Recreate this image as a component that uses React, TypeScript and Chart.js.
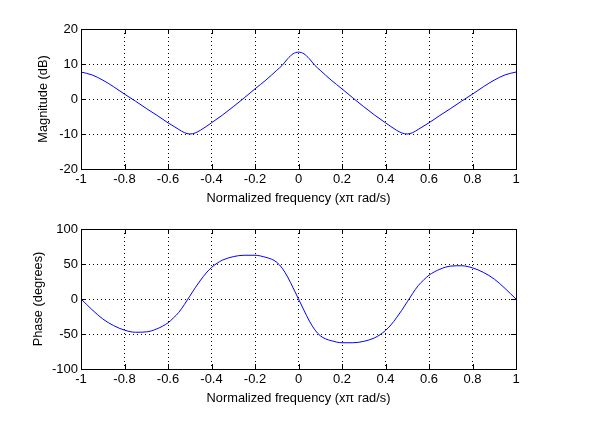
import { useEffect, useRef } from "react";
import { Chart, registerables } from "chart.js";

Chart.register(...registerables);

const magFreq = [
  -1, -0.95, -0.9, -0.85, -0.8, -0.75, -0.7, -0.65, -0.6, -0.55, -0.525, -0.5,
  -0.475, -0.45, -0.4, -0.35, -0.3, -0.25, -0.2, -0.15, -0.1, -0.075, -0.05, -0.025, 0,
  0.025, 0.05, 0.075, 0.1, 0.15, 0.2, 0.25, 0.3, 0.35, 0.4, 0.45, 0.475,
  0.5, 0.525, 0.55, 0.6, 0.65, 0.7, 0.75, 0.8, 0.85, 0.9, 0.95, 1,
];

const magnitudeDb = [
  7.7, 6.9, 5.4, 3.5, 1.4, -0.6, -2.7, -4.7, -6.8, -8.7, -9.6, -10.0,
  -9.7, -8.9, -6.8, -4.6, -2.2, 0.3, 2.9, 5.4, 8.2, 9.6, 11.5, 12.9, 13.4,
  12.9, 11.5, 9.6, 8.2, 5.4, 2.9, 0.3, -2.2, -4.6, -6.8, -8.9, -9.7,
  -10.0, -9.6, -8.7, -6.8, -4.7, -2.7, -0.6, 1.4, 3.5, 5.4, 6.9, 7.7,
];

const phaseFreq = [
  -1, -0.975, -0.95, -0.9, -0.85, -0.8, -0.75, -0.7, -0.65, -0.6, -0.575, -0.55,
  -0.525, -0.5, -0.475, -0.45, -0.425, -0.4, -0.375, -0.35, -0.3, -0.25, -0.2,
  -0.15, -0.125, -0.1, -0.075, -0.05, -0.025, 0,
  0.025, 0.05, 0.075, 0.1, 0.125, 0.15, 0.2, 0.25, 0.3, 0.35, 0.375, 0.4,
  0.425, 0.45, 0.475, 0.5, 0.525, 0.55, 0.575, 0.6, 0.65, 0.7, 0.75, 0.8,
  0.85, 0.9, 0.95, 0.975, 1,
];

const phaseDeg = [
  0, -7.5, -15, -28.5, -38, -44.5, -47.5, -47, -42.5, -34, -27, -19,
  -8, 4, 16, 27, 37, 45, 51, 55.5, 60.5, 62.5, 62.5,
  59.5, 57, 52.5, 44, 31.5, 16, 0,
  -16, -31.5, -44, -52.5, -57, -59.5, -62.5, -62.5, -60.5, -55.5, -51, -45,
  -37, -27, -16, -4, 8, 19, 27, 34, 42.5, 47, 47.5, 44.5,
  38, 28.5, 15, 7.5, 0,
];

const xTicks = [-1, -0.8, -0.6, -0.4, -0.2, 0, 0.2, 0.4, 0.6, 0.8, 1];
const xTickLabels = ["-1", "-0.8", "-0.6", "-0.4", "-0.2", "0", "0.2", "0.4", "0.6", "0.8", "1"];
const magTicks = [-20, -10, 0, 10, 20];
const magTickLabels = ["-20", "-10", "0", "10", "20"];
const phaseTicks = [-100, -50, 0, 50, 100];
const phaseTickLabels = ["-100", "-50", "0", "50", "100"];

const xTitle = "Normalized frequency (x\u03c0 rad/s)";
const magTitle = "Magnitude (dB)";
const phaseTitle = "Phase (degrees)";

const FONT = "'Liberation Sans', Arial, Helvetica, sans-serif";

const framePlugin = {
  id: "frame",
  afterDatasetsDraw(chart: any) {
    const { ctx, chartArea } = chart;
    const xs = chart.scales.x;
    const ys = chart.scales.y;
    const L = Math.round(chartArea.left);
    const R = Math.round(chartArea.right);
    const T = Math.round(chartArea.top);
    const B = Math.round(chartArea.bottom);
    ctx.save();
    ctx.strokeStyle = "#000";
    ctx.lineWidth = 1;
    ctx.setLineDash([]);
    ctx.beginPath();
    const tl = 5;
    xs.ticks.forEach((t: any) => {
      const p = Math.round(xs.getPixelForValue(t.value)) + 0.5;
      ctx.moveTo(p, B);
      ctx.lineTo(p, B - tl);
      ctx.moveTo(p, T);
      ctx.lineTo(p, T + tl);
    });
    ys.ticks.forEach((t: any) => {
      const p = Math.round(ys.getPixelForValue(t.value)) + 0.5;
      ctx.moveTo(L, p);
      ctx.lineTo(L + tl, p);
      ctx.moveTo(R, p);
      ctx.lineTo(R - tl, p);
    });
    ctx.stroke();
    ctx.strokeRect(L + 0.5, T + 0.5, R - L, B - T);
    ctx.restore();
  },
};

function makeChart(
  canvas: HTMLCanvasElement,
  xs: number[],
  values: number[],
  yTicks: number[],
  yLabels: string[],
  yTitle: string,
  yTitlePad: number
) {
  return new Chart(canvas, {
    type: "line",
    data: {
      datasets: [
        {
          data: xs.map((f, i) => ({ x: f, y: values[i] })),
          borderColor: "#0000ff",
          borderWidth: 1,
          pointRadius: 0,
          fill: false,
          cubicInterpolationMode: "monotone",
        },
      ],
    },
    options: {
      animation: false,
      responsive: false,
      events: [],
      layout: { padding: { left: 0, right: 73, top: 29, bottom: 0 } },
      plugins: { legend: { display: false }, tooltip: { enabled: false } },
      scales: {
        x: {
          type: "linear",
          min: -1,
          max: 1,
          afterBuildTicks: (s: any) => {
            s.ticks = xTicks.map((v) => ({ value: v }));
          },
          afterFit: (s: any) => {
            s.height = 45;
          },
          ticks: {
            autoSkip: false,
            maxRotation: 0,
            padding: 3,
            color: "#000",
            font: { family: FONT, size: 13 },
            callback: (v: any) => xTickLabels[xTicks.indexOf(Number(v))] ?? "",
          },
          grid: { color: "#000", lineWidth: 1, drawTicks: false },
          border: { display: false, dash: [1, 3] },
          title: {
            display: true,
            text: xTitle,
            color: "#000",
            font: { family: FONT, size: 12.8 },
            padding: { top: 0, bottom: 7.5 },
          },
        },
        y: {
          type: "linear",
          min: yTicks[0],
          max: yTicks[yTicks.length - 1],
          afterBuildTicks: (s: any) => {
            s.ticks = yTicks.map((v) => ({ value: v }));
          },
          afterFit: (s: any) => {
            s.width = 81;
          },
          ticks: {
            padding: 3,
            color: "#000",
            font: { family: FONT, size: 13 },
            callback: (v: any) => yLabels[yTicks.indexOf(Number(v))] ?? "",
          },
          grid: { color: "#000", lineWidth: 1, drawTicks: false },
          border: { display: false, dash: [1, 3] },
          title: {
            display: true,
            text: yTitle,
            color: "#000",
            font: { family: FONT, size: 12.8 },
            padding: { top: yTitlePad, bottom: 0 },
          },
        },
      },
    },
    plugins: [framePlugin],
  } as any);
}

export default function App() {
  const topRef = useRef<HTMLCanvasElement>(null);
  const botRef = useRef<HTMLCanvasElement>(null);

  useEffect(() => {
    const c1 = makeChart(topRef.current!, magFreq, magnitudeDb, magTicks, magTickLabels, magTitle, 35.3);
    const c2 = makeChart(botRef.current!, phaseFreq, phaseDeg, phaseTicks, phaseTickLabels, phaseTitle, 30.8);
    return () => {
      c1.destroy();
      c2.destroy();
    };
  }, []);

  return (
    <div
      style={{
        position: "absolute",
        left: 0,
        top: 0,
        width: 589,
        height: 427,
        background: "#fff",
        overflow: "hidden",
      }}
    >
      <canvas
        ref={topRef}
        width={589}
        height={214}
        style={{ position: "absolute", left: 0, top: 0, width: 589, height: 214 }}
      />
      <canvas
        ref={botRef}
        width={589}
        height={214}
        style={{ position: "absolute", left: 0, top: 200, width: 589, height: 214 }}
      />
    </div>
  );
}
